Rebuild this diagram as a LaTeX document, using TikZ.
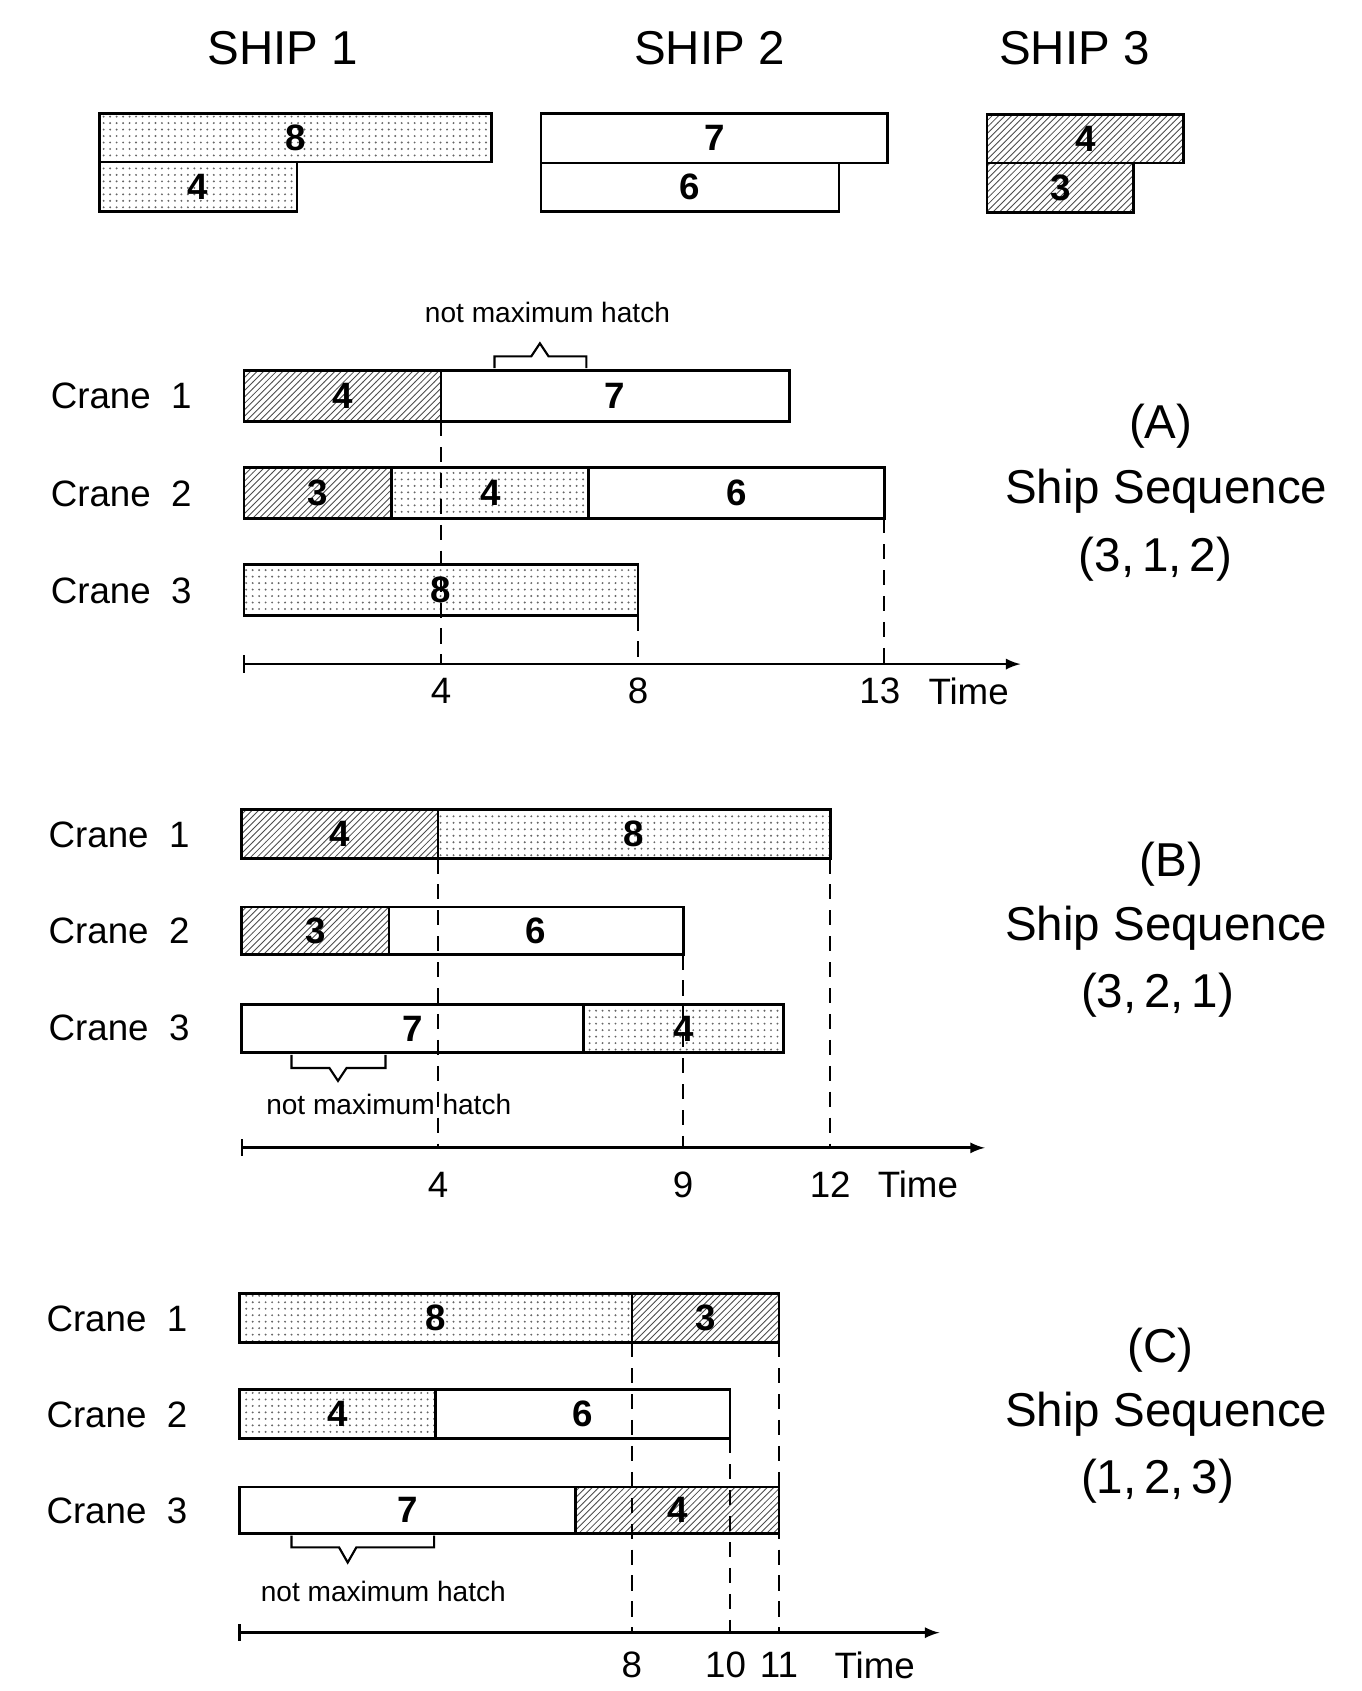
\documentclass[tikz,border=0pt]{standalone}
\usepackage{fontspec}
\setmainfont{Liberation Sans}
\usetikzlibrary{patterns}
\tikzset{
  dotf/.style={pattern=dots,pattern color=black!60},
  hatf/.style={pattern=north east lines,pattern color=black!70},
  whf/.style={fill=white},
  bx/.style={draw,line width=1.3pt},
  num/.style={font=\fontsize{17}{17}\selectfont\bfseries},
  crane/.style={font=\fontsize{17}{17}\selectfont,anchor=west},
  big/.style={font=\fontsize{22}{22}\selectfont},
  small/.style={font=\fontsize{13}{13}\selectfont},
  dsh/.style={dashed,line width=0.9pt,dash pattern=on 7pt off 5pt},
  axis/.style={line width=1.3pt,-latex},
}
% \gbar{x0}{x1}{ytop}{ybot}{style}{label}
\newcommand\gbar[6]{\path[bx,#5] (#1,#3) rectangle (#2,#4); \node[num] at ({(#1+#2)/2},{(#3+#4)/2}) {#6};}
\begin{document}
\begin{tikzpicture}[x=0.5pt,y=-0.5pt]
\useasboundingbox (0,0) rectangle (1261,1566);
% ships
\node[big] (s1) at (262,45) {SHIP 1};
\node[big] (s2) at (657,45) {SHIP 2};
\node[big] (s3) at (995,45) {SHIP 3};
\gbar{92}{455}{105}{150}{dotf}{8}
\gbar{92}{275}{150}{196}{dotf}{4}
\gbar{501}{822}{105}{151}{whf}{7}
\gbar{501}{777}{151}{196}{whf}{6}
\gbar{914}{1096}{106}{151}{hatf}{4}
\gbar{914}{1050}{151}{197}{hatf}{3}
% ===== (A)
\def\u{45.6}
\def\o{226}
\foreach \y/\t in {367/1,457/2,547/3} \node[crane] at (40,\y) {Crane\ \ \t};
\gbar{\o}{\o+4*\u}{343}{390}{hatf}{4}
\gbar{\o+4*\u}{\o+11.07*\u}{343}{390}{whf}{7}
\gbar{\o}{\o+3*\u}{433}{480}{hatf}{3}
\gbar{\o+3*\u}{\o+7*\u}{433}{480}{dotf}{4}
\gbar{\o+7*\u}{\o+13*\u}{433}{480}{whf}{6}
\gbar{\o}{\o+8*\u}{523}{570}{dotf}{8}
\draw[dsh] (\o+4*\u,390) -- (\o+4*\u,615);
\draw[dsh] (\o+8*\u,570) -- (\o+8*\u,615);
\draw[dsh] (\o+13*\u,480) -- (\o+13*\u,615);
\draw[axis] (\o,615) -- (945,615);
\draw[line width=1.2pt] (\o,607) -- (\o,623);
\node[crane,anchor=center] at (\o+4*\u,640) {4};
\node[crane,anchor=center] at (\o+8*\u,640) {8};
\node[crane,anchor=center] at (\o+13*\u-4,640) {13};
\node[crane,anchor=center] at (897,640) {Time};
\draw[line width=1pt] (458,341) -- (458,330) -- (492,330) -- (500,318) -- (508,330) -- (543,330) -- (543,341);
\node[small] at (507,289) {not maximum hatch};
\node[big] at (1075,395) {(A)};
\node[big] at (1080,455) {Ship Sequence};
\node[big] at (1070,518) {(3,\,1,\,2)};
% ===== (B)
\def\u{45.4}
\def\o{224}
\foreach \y/\t in {773/1,862/2,952/3} \node[crane] at (38,\y) {Crane\ \ \t};
\gbar{\o}{\o+4*\u}{750}{795}{hatf}{4}
\gbar{\o+4*\u}{\o+12*\u}{750}{795}{dotf}{8}
\gbar{\o}{\o+3*\u}{840}{884}{hatf}{3}
\gbar{\o+3*\u}{\o+9*\u}{840}{884}{whf}{6}
\gbar{\o}{\o+6.96*\u}{930}{975}{whf}{7}
\gbar{\o+6.96*\u}{\o+11.05*\u}{930}{975}{dotf}{4}
\draw[dsh] (\o+4*\u,795) -- (\o+4*\u,1063);
\draw[dsh] (\o+9*\u,884) -- (\o+9*\u,1063);
\draw[dsh] (\o+12*\u,795) -- (\o+12*\u,1063);
\draw[axis] (\o,1063) -- (912,1063);
\draw[line width=1.2pt] (\o,1055) -- (\o,1071);
\node[crane,anchor=center] at (\o+4*\u,1097) {4};
\node[crane,anchor=center] at (\o+9*\u,1097) {9};
\node[crane,anchor=center] at (\o+12*\u,1097) {12};
\node[crane,anchor=center] at (850,1097) {Time};
\draw[line width=1pt] (270,977) -- (270,989) -- (305,989) -- (313,1001) -- (321,989) -- (357,989) -- (357,977);
\node[small] at (360,1023) {not maximum hatch};
\node[big] at (1085,800) {(B)};
\node[big] at (1080,860) {Ship Sequence};
\node[big] at (1072,922) {(3,\,2,\,1)};
% ===== (C)
\def\u{45.4}
\def\o{222}
\foreach \y/\t in {1221/1,1310/2,1399/3} \node[crane] at (36,\y) {Crane\ \ \t};
\gbar{\o}{\o+8*\u}{1198}{1243}{dotf}{8}
\gbar{\o+8*\u}{\o+11*\u}{1198}{1243}{hatf}{3}
\gbar{\o}{\o+4*\u}{1287}{1332}{dotf}{4}
\gbar{\o+4*\u}{\o+10*\u}{1287}{1332}{whf}{6}
\gbar{\o}{\o+6.85*\u}{1377}{1420}{whf}{7}
\gbar{\o+6.85*\u}{\o+11*\u}{1377}{1420}{hatf}{4}
\draw[dsh] (\o+8*\u,1243) -- (\o+8*\u,1512);
\draw[dsh] (\o+10*\u,1332) -- (\o+10*\u,1512);
\draw[dsh] (\o+11*\u,1243) -- (\o+11*\u,1512);
\draw[axis] (\o,1512) -- (870,1512);
\draw[line width=1.2pt] (\o,1504) -- (\o,1520);
\node[crane,anchor=center] at (\o+8*\u,1542) {8};
\node[crane,anchor=center] at (\o+10*\u-4,1542) {10};
\node[crane,anchor=center] at (\o+11*\u,1542) {11};
\node[crane,anchor=center] at (810,1542) {Time};
\draw[line width=1pt] (270,1422) -- (270,1433) -- (314,1433) -- (322,1447) -- (330,1433) -- (402,1433) -- (402,1422);
\node[small] at (355,1474) {not maximum hatch};
\node[big] at (1075,1250) {(C)};
\node[big] at (1080,1310) {Ship Sequence};
\node[big] at (1072,1372) {(1,\,2,\,3)};
\end{tikzpicture}
\end{document}
